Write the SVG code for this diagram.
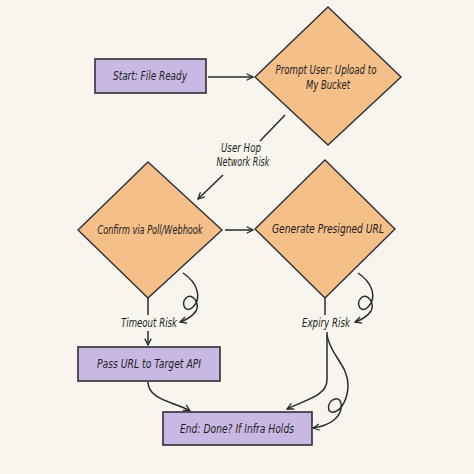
<svg xmlns="http://www.w3.org/2000/svg" width="474" height="474" viewBox="0 0 474 474">
<defs>
<marker id="ah" viewBox="0 0 10 10" refX="9" refY="5" markerWidth="8" markerHeight="8" orient="auto-start-reverse" markerUnits="userSpaceOnUse">
<path d="M1,1 L9,5 L1,9" fill="none" stroke="#2a2a2a" stroke-width="1.6"/>
</marker>
<style>
.box{fill:#c9b8e4;stroke:#2f2f35;stroke-width:1.6}
.dia{fill:#f4bf88;stroke:#2f2f35;stroke-width:1.4}
.t{font-family:"DejaVu Sans Condensed","Liberation Sans",sans-serif;font-stretch:condensed;font-style:italic;font-size:12.5px;fill:#1e1e22;text-anchor:middle}
.s{font-size:11.5px}
.c{fill:none;stroke:#2a2a2a;stroke-width:1.5}
</style>
</defs>
<rect width="474" height="474" fill="#f7f5ee"/>
<g id="start"><rect class="box" x="95" y="59" width="111" height="34"/><text class="t" x="150" y="80" textLength="74" lengthAdjust="spacingAndGlyphs">Start: File Ready</text></g>
<g id="prompt"><polygon class="dia" points="328,7 401,77 328,145 255,77"/><text class="t" x="326" y="74" textLength="101" lengthAdjust="spacingAndGlyphs">Prompt User: Upload to</text><text class="t" x="328" y="89" textLength="44" lengthAdjust="spacingAndGlyphs">My Bucket</text></g>
<g id="confirm"><polygon class="dia" points="148,162 222,230 148,298 78,230"/><text class="t" x="150" y="234" textLength="105" lengthAdjust="spacingAndGlyphs">Confirm via Poll/Webhook</text></g>
<g id="generate"><polygon class="dia" points="325,160 395,229 325,298 255,229"/><text class="t" x="328" y="233" textLength="112" lengthAdjust="spacingAndGlyphs">Generate Presigned URL</text></g>
<g id="pass"><rect class="box" x="78" y="347" width="142" height="34"/><text class="t" x="149" y="368" textLength="104" lengthAdjust="spacingAndGlyphs">Pass URL to Target API</text></g>
<g id="end"><rect class="box" x="163" y="412" width="149" height="33"/><text class="t" x="237" y="433" textLength="114" lengthAdjust="spacingAndGlyphs">End: Done? If Infra Holds</text></g>
<g id="connectors">
<path class="c" d="M208,77 L253,77" marker-end="url(#ah)"/>
<path class="c" d="M285,115 L260,141"/>
<text class="t s" x="241" y="152" textLength="40" lengthAdjust="spacingAndGlyphs">User Hop</text>
<text class="t s" x="243" y="166" textLength="53" lengthAdjust="spacingAndGlyphs">Network Risk</text>
<path class="c" d="M223,175 L198,199" marker-end="url(#ah)"/>
<path class="c" d="M225,230 L253,230" marker-end="url(#ah)"/>
<path class="c" d="M148,298 L148,315"/>
<text class="t" x="149" y="327" textLength="56" lengthAdjust="spacingAndGlyphs">Timeout Risk</text>
<path class="c" d="M148,331 L148,345" marker-end="url(#ah)"/>
<path class="c" d="M183,273 C198,283 202,298 193,307 C186,314 180,304 186,298 C193,292 200,304 196,311 C192,317 186,320 180,322" marker-end="url(#ah)"/>
<path class="c" d="M325,298 L325,315"/>
<text class="t" x="326" y="327" textLength="48" lengthAdjust="spacingAndGlyphs">Expiry Risk</text>
<path class="c" d="M358,273 C373,283 377,298 368,307 C361,314 355,304 361,298 C368,292 375,304 371,311 C367,317 361,320 355,322" marker-end="url(#ah)"/>
<path class="c" d="M327,332 L327,380 C327,396 305,400 287,409" marker-end="url(#ah)"/>
<path class="c" d="M327,335 C330,355 348,365 348,385 C348,398 342,410 334,412 C326,414 327,401 335,399 C343,397 344,412 334,420 C328,425 320,427 313,428" marker-end="url(#ah)"/>
<path class="c" d="M148,382 C148,400 175,402 190,411" marker-end="url(#ah)"/>
</g>
</svg>
